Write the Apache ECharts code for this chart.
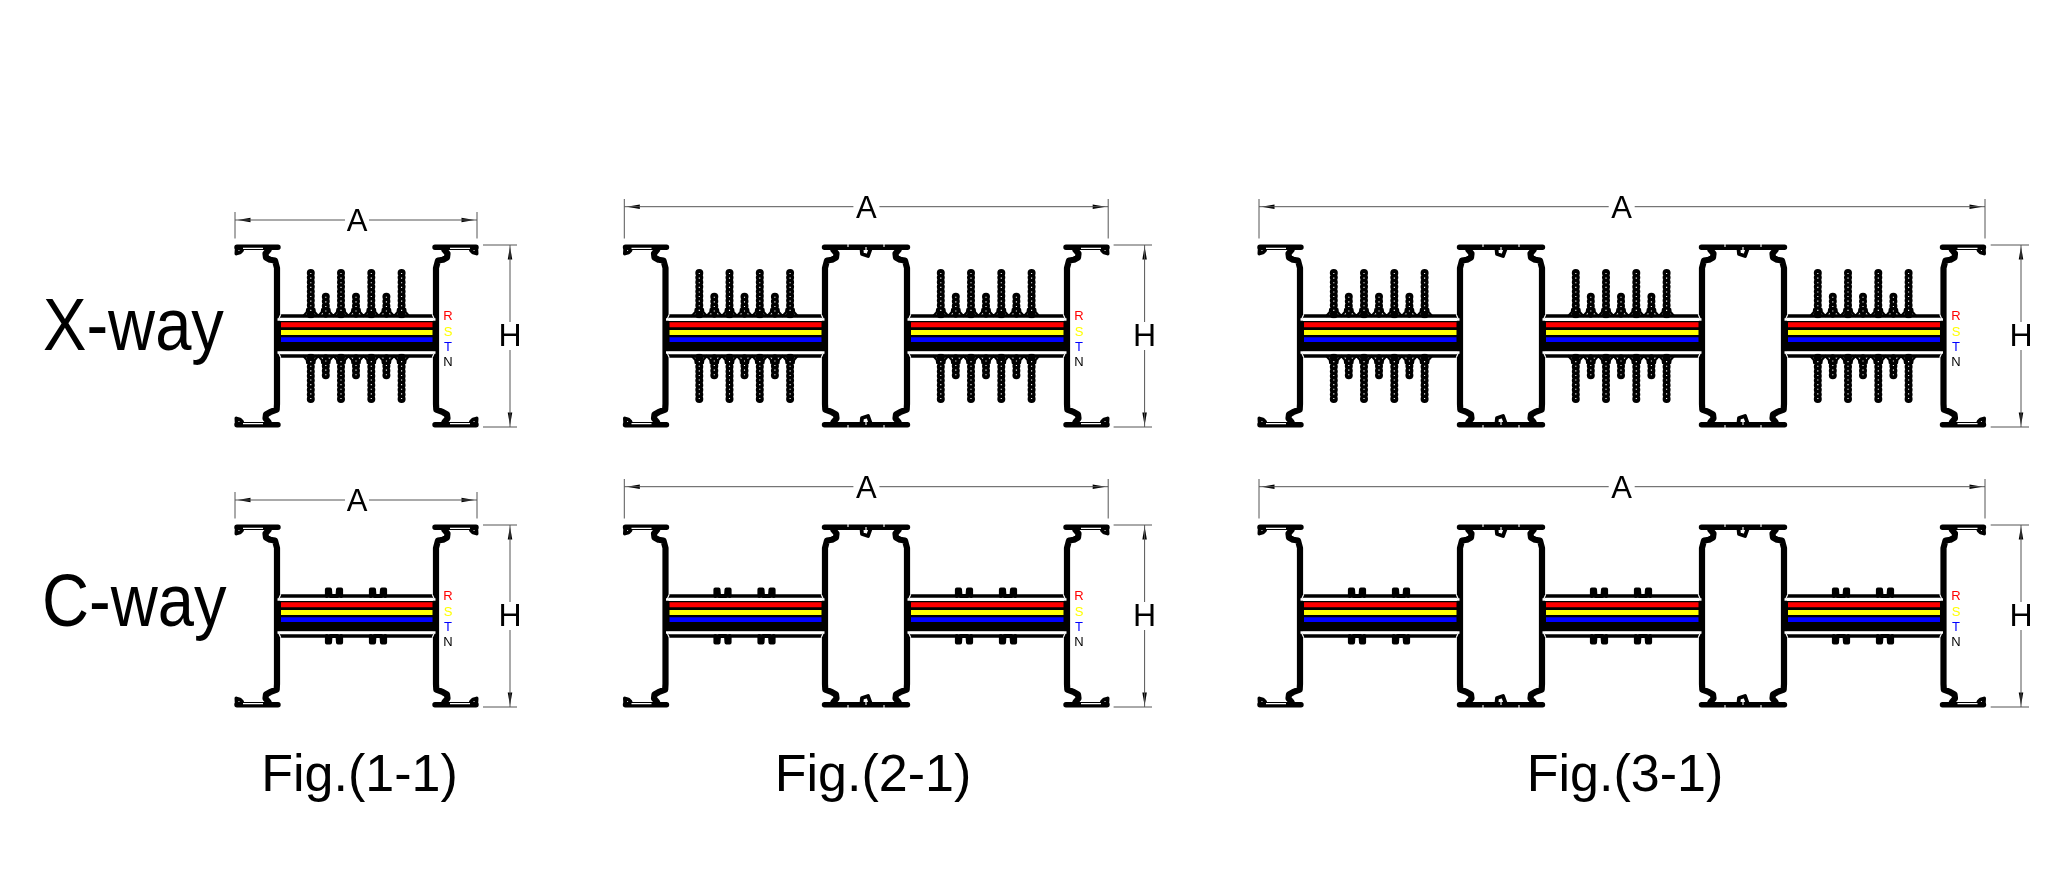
<!DOCTYPE html>
<html>
<head>
<meta charset="utf-8">
<title>X-way / C-way</title>
<script src="https://cdn.jsdelivr.net/npm/echarts@6/dist/echarts.min.js"></script>
<style>
html, body { margin: 0; padding: 0; background: #fff; }
#plot { width: 2048px; height: 895px; }
</style>
</head>
<body>
<div id="plot"></div>
<script>
// web centre lines of each figure: outer, box, box..., outer
var fig1Webs = [277, 436];
var fig2Webs = [665.5, 825, 907, 1067];
var fig3Webs = [1300, 1460, 1542, 1702, 1784, 1943.5];
var figWebs = [fig1Webs, fig2Webs, fig3Webs];

var rowShift = [0, 280];          // C-way row sits below the X-way row
var midY = 336;                   // profile is symmetric about this line
var tallFins = [33.8, 64, 94.3, 124.6];
var shortFins = [48.8, 79, 109.4];
var tallTip = 273, shortTip = 296.7;
var bumps = [57, 101];            // C-way corrugations

var sCurve = [[8.5,250],[11.5,253.5],[11,257.5],[7,259.8],[2,260.5],[0.3,262.5],[0,268]];
var hook = [[40.2,247],[40.6,253.5],[38.8,255],[37,252.5],[35,250.5]];
var bumpShape = [[-7.2,316],[-7.2,309.5],[-5.5,307.9],[-3.9,309.5],[-3.4,316],[3.4,316],[3.9,309.5],[5.5,307.9],[7.2,309.5],[7.2,316]];
var notchShape = [[-4.5,249],[-4,254],[-2,256],[2,256],[4,254],[4.5,249]];

var busNames = ['R', 'S', 'T', 'N'];
var busColors = ['#ff0000', '#ffff00', '#0000ff', '#000000'];
var busBarY = [324.8, 332.5, 339.7];
var busLabelY = [316, 332, 347, 362];
var busLabelX = [448, 1079, 1956];

var dimAY = [220, 206.7, 206.7];
var dimAEnds = [[235, 477], [624.3, 1108.2], [1259, 1985]];
var dimAText = [357, 866.4, 1621.7];
var dimAGap = [12, 13, 13];
var dimATop = [212, 199, 199];
var dimHX = [510, 1144.6, 2021];
var dimHFrom = [483, 1113.6, 1990.7];
var dimHTo = [517, 1152, 2029];

var figNames = ['Fig.(1-1)', 'Fig.(2-1)', 'Fig.(3-1)'];
var figNameX = [359.5, 873, 1625];
var rowNames = ['X-way', 'C-way'];
var rowNameX = [43, 42];
var rowNameY = [330, 606];

var webPaths = [], flangePaths = [], hookPaths = [], blockPaths = [], skinPaths = [], whitePaths = [], whiteThin = [];
var finSolid = [], finBeads = [], finDots = [], filletPaths = [];
var busPaths = [[], [], []];
var dimPaths = [], arrows = [], labels = [];

function add(list, pts, dy, flip) {
	pts.forEach(function (p) {
		list.push([p[0], (flip ? 2 * midY - p[1] : p[1]) + dy]);
	});
	list.push([null, null]);
}

function mapX(shape, x0, sign) {
	return shape.map(function (p) { return [x0 + sign * p[0], p[1]]; });
}

function addWeb(w, side, dy) {
	var upper = mapX(sCurve, w, side);
	var lower = upper.slice().reverse().map(function (p) { return [p[0], 2 * midY - p[1]]; });
	add(webPaths, upper.concat(lower), dy);
}

function addOuterFlange(w, side, dy) {
	[false, true].forEach(function (flip) {
		add(flangePaths, [[w + side * 40, 247.3], [w - side * 1, 247.3]], dy, flip);
		add(hookPaths, mapX(hook, w, side), dy, flip);
		add(whiteThin, [[w + side * 34, 248.4], [w + side * 14, 248.4]], dy, flip);
	});
}

function addBoxFlange(wl, wr, dy) {
	var c = (wl + wr) / 2;
	[false, true].forEach(function (flip) {
		add(flangePaths, [[wl - 0.5, 247.3], [wr + 0.5, 247.3]], dy, flip);
		add(hookPaths, mapX(notchShape, c, 1), dy, flip);
		add(whiteThin, [[c, 247], [c, 253]], dy, flip);
		add(whiteThin, [[c - 18, 244], [c - 18, 247]], dy, flip);
		add(whiteThin, [[c + 18, 244], [c + 18, 247]], dy, flip);
	});
}

function addSpan(wl, wr, row, dy) {
	add(blockPaths, [[wl, 336.3], [wr, 336.3]], dy);
	busBarY.forEach(function (y, i) {
		add(busPaths[i], [[wl + 4, y], [wr - 3.5, y]], dy);
	});
	[false, true].forEach(function (flip) {
		add(skinPaths, [[wl + 2, 316], [wr - 2, 316]], dy, flip);
		add(whitePaths, [[wl + 0.5, 319.5], [wr - 0.5, 319.5]], dy, flip);
		add(whiteThin, [[wl + 3.8, 314.2], [wl + 1.5, 319.5]], dy, flip);
		add(whiteThin, [[wr - 3.8, 314.2], [wr - 1.5, 319.5]], dy, flip);
		if (row === 0) {
			[[tallFins, tallTip], [shortFins, shortTip]].forEach(function (set) {
				set[0].forEach(function (off) {
					var x = wl + off;
					add(finSolid, [[x, set[1]], [x, 315]], dy, flip);
					add(finBeads, [[x, set[1]], [x, 315]], dy, flip);
					add(finDots, [[x, set[1]], [x, 313]], dy, flip);
					add(filletPaths, [[x - 7.5, 316], [x - 5.5, 315.2], [x - 4, 312], [x - 3.6, 309]], dy, flip);
					add(filletPaths, [[x + 7.5, 316], [x + 5.5, 315.2], [x + 4, 312], [x + 3.6, 309]], dy, flip);
				});
			});
		} else {
			bumps.forEach(function (off) {
				add(hookPaths, mapX(bumpShape, wl + off, 1), dy, flip);
			});
		}
	});
}

function addDims(f, dy) {
	var ends = dimAEnds[f], y = dimAY[f];
	add(dimPaths, [[ends[0], y], [dimAText[f] - dimAGap[f], y]], dy);
	add(dimPaths, [[dimAText[f] + dimAGap[f], y], [ends[1], y]], dy);
	add(dimPaths, [[ends[0], dimATop[f]], [ends[0], 238.5]], dy);
	add(dimPaths, [[ends[1], dimATop[f]], [ends[1], 238.5]], dy);
	arrows.push([ends[0] + 9, y + dy, 90], [ends[1] - 9, y + dy, -90]);
	labels.push({ name: 'A', value: [dimAText[f], y + dy + 2.5], size: 31 });

	var hx = dimHX[f];
	add(dimPaths, [[dimHFrom[f], 245], [dimHTo[f], 245]], dy);
	add(dimPaths, [[dimHFrom[f], 427], [dimHTo[f], 427]], dy);
	add(dimPaths, [[hx, 245], [hx, 322]], dy);
	add(dimPaths, [[hx, 350], [hx, 427]], dy);
	arrows.push([hx, 253 + dy, 0], [hx, 419 + dy, 180]);
	labels.push({ name: 'H', value: [hx, 337.5 + dy], size: 32 });

	busNames.forEach(function (n, i) {
		labels.push({ name: n, value: [busLabelX[f], busLabelY[i] + dy], size: 13, color: busColors[i] });
	});
}

rowShift.forEach(function (dy, row) {
	figWebs.forEach(function (webs, f) {
		var last = webs.length - 1;
		addWeb(webs[0], -1, dy);
		addOuterFlange(webs[0], -1, dy);
		addWeb(webs[last], 1, dy);
		addOuterFlange(webs[last], 1, dy);
		for (var i = 1; i < last; i += 2) {
			addWeb(webs[i], 1, dy);
			addWeb(webs[i + 1], -1, dy);
			addBoxFlange(webs[i], webs[i + 1], dy);
		}
		for (var j = 0; j < last; j += 2) {
			addSpan(webs[j], webs[j + 1], row, dy);
		}
		addDims(f, dy);
	});
});

figNames.forEach(function (n, i) {
	labels.push({ name: n, value: [figNameX[i], 777], size: 52 });
});

function lineSeries(data, color, width, extra) {
	var style = { color: color, width: width, cap: 'round', join: 'round' };
	for (var k in (extra || {})) style[k] = extra[k];
	return {
		type: 'line',
		data: data,
		showSymbol: false,
		symbol: 'none',
		clip: false,
		silent: true,
		lineStyle: style
	};
}

var option = {
	animation: false,
	backgroundColor: '#fff',
	grid: { left: 0, right: 0, top: 0, bottom: 0 },
	xAxis: { type: 'value', min: 0, max: 2048, show: false },
	yAxis: { type: 'value', min: 0, max: 895, inverse: true, show: false },
	series: [
		lineSeries(blockPaths, '#000', 30.7, { cap: 'butt' }),
		lineSeries(webPaths, '#000', 6.2),
		lineSeries(flangePaths, '#000', 5.4),
		lineSeries(hookPaths, '#000', 3.8),
		lineSeries(skinPaths, '#000', 3.6, { cap: 'butt' }),
		lineSeries(finSolid, '#000', 5.4),
		lineSeries(finBeads, '#000', 8, { type: [0, 4.6] }),
		lineSeries(filletPaths, '#000', 2.2),
		lineSeries(finDots, '#fff', 1.1, { type: [1.1, 3.5], cap: 'butt' }),
		lineSeries(whitePaths, '#fff', 2.4, { cap: 'butt' }),
		lineSeries(whiteThin, '#fff', 1.1, { cap: 'butt' }),
		lineSeries(busPaths[0], busColors[0], 5, { cap: 'butt' }),
		lineSeries(busPaths[1], busColors[1], 5, { cap: 'butt' }),
		lineSeries(busPaths[2], busColors[2], 4.8, { cap: 'butt' }),
		lineSeries(dimPaths, '#555', 1, { cap: 'butt' }),
		{
			type: 'scatter',
			data: arrows,
			silent: true,
			symbol: 'triangle',
			symbolSize: [4.5, 13],
			symbolRotate: function (v) { return v[2]; },
			itemStyle: { color: '#000', opacity: 1 },
			clip: false
		},
		{
			type: 'scatter',
			silent: true,
			symbolSize: 1,
			itemStyle: { color: 'rgba(0,0,0,0)', opacity: 1 },
			clip: false,
			data: labels.map(function (l) {
				return {
					name: l.name,
					value: l.value,
					label: {
						show: true,
						position: 'inside',
						formatter: l.name,
						fontFamily: 'Liberation Sans',
						fontSize: l.size,
						color: l.color || '#000'
					}
				};
			})
		}
	],
	graphic: rowNames.map(function (n, i) {
		return {
			type: 'text',
			x: rowNameX[i],
			y: rowNameY[i],
			scaleX: 0.88,
			style: {
				text: n,
				fontFamily: 'Liberation Sans',
				fontSize: 74,
				fill: '#000',
				textAlign: 'left',
				verticalAlign: 'middle'
			}
		};
	})
};

var myChart = echarts.init(document.getElementById('plot'));
myChart.setOption(option);
</script>
</body>
</html>
